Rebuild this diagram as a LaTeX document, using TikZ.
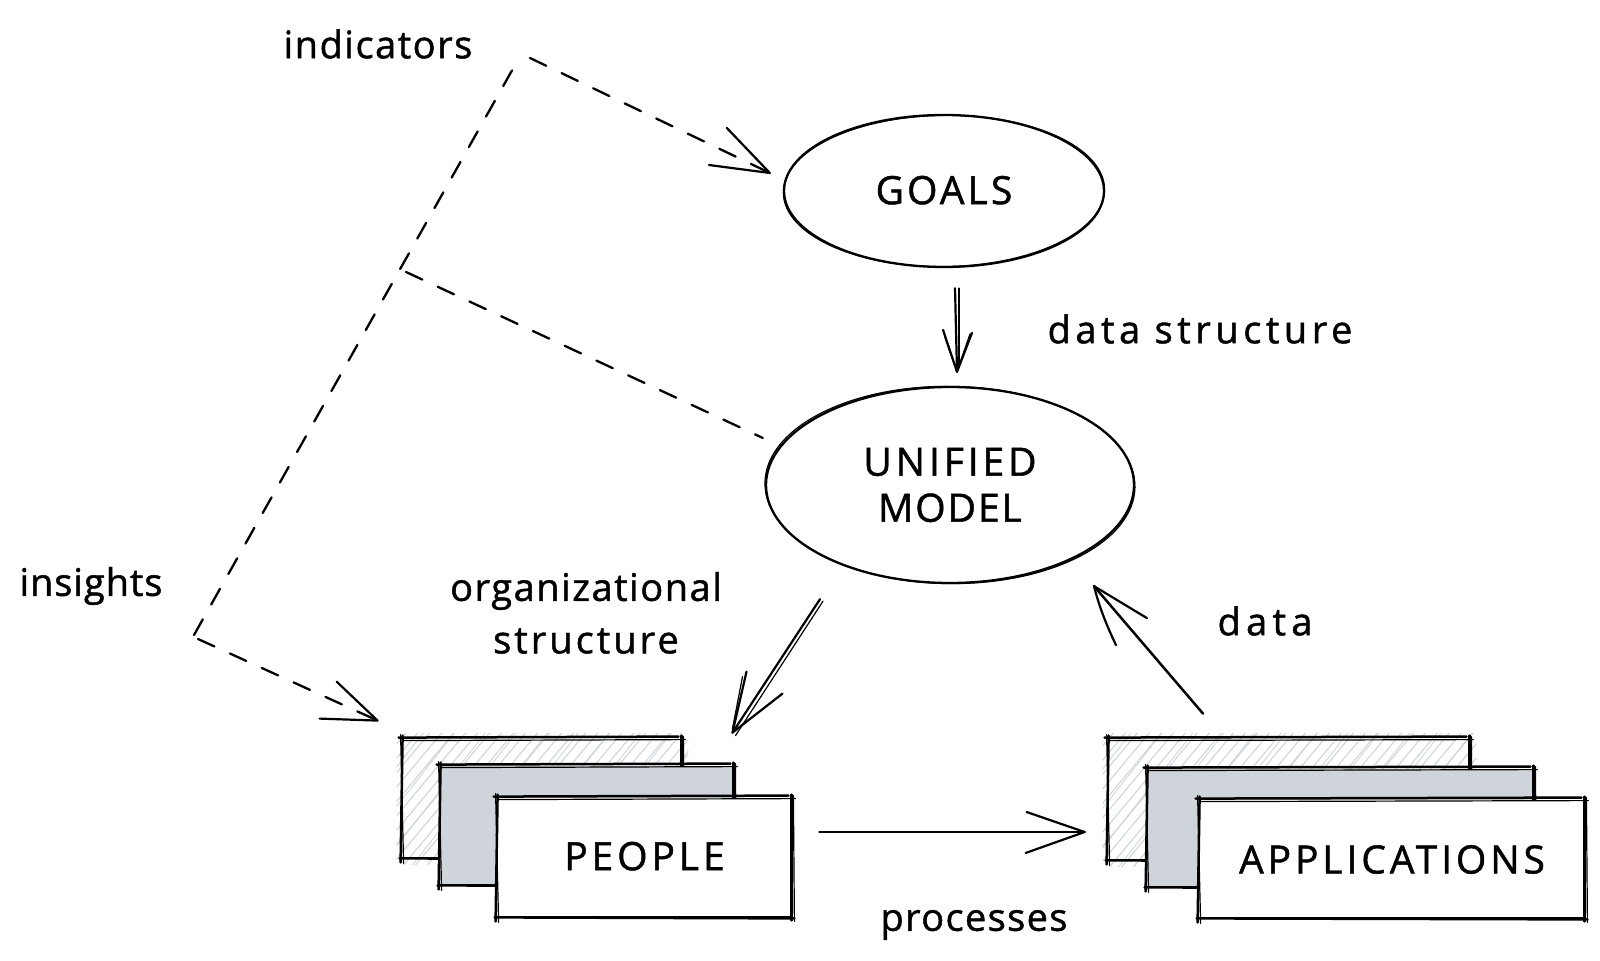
\documentclass[tikz,border=0pt]{standalone}
\usepackage{fontspec}
\usetikzlibrary{calc,shapes.geometric}
\newfontfamily\skfont[FakeBold=1.2]{Open Sans}
\newcommand{\sklabel}[1]{\addfontfeature{LetterSpace=#1}}
\definecolor{slate}{HTML}{CED4DA}
\definecolor{hatchc}{HTML}{CDD2D8}
\tikzset{
  skline/.style={line width=1.25pt,line cap=round,line join=round,black},
  skthin/.style={line width=0.6pt,line cap=round,line join=round,black},
  skarrow/.style={line width=1.1pt,line cap=round,line join=round,black},
  skdash/.style={line width=1.15pt,line cap=round,black,dash pattern=on 9pt off 8.5pt},
  sktext/.style={font=\skfont\fontsize{19}{23}\selectfont,inner sep=0pt,align=center},
  skcap/.style={font=\skfont\fontsize{19.5}{23}\selectfont\sklabel{10},align=center},
  skbox/.style={rectangle,inner sep=0pt,minimum width=#1},
  skblob/.style={ellipse,inner sep=0pt,draw=black,line width=1.15pt,fill=white},
}
% rough doubled outline of a node
\newcommand{\skoutline}[1]{%
  \draw[skline] ($(#1.north west)+(-3,-1)$) -- ($(#1.north east)+(-4,-2)$);
  \draw[skline] ($(#1.north east)+(-1,-3)$) -- ($(#1.south east)+(-1,2)$);
  \draw[skline] ($(#1.south east)+(2,0)$) -- ($(#1.south west)+(-2,-1)$);
  \draw[skline] ($(#1.south west)+(-1,3)$) -- ($(#1.north west)+(1,-3)$);
  \draw[skthin] ($(#1.north west)+(2,2)$) -- ($(#1.north east)+(3,1)$);
  \draw[skthin] ($(#1.north east)+(1,-2)$) -- ($(#1.south east)+(2,3)$);
  \draw[skthin] ($(#1.south east)+(-2,-2)$) -- ($(#1.south west)+(2,-2)$);
  \draw[skthin] ($(#1.south west)+(2,4)$) -- ($(#1.north west)+(-1,-4)$);
}
% hatch of a node
\newcommand{\skhatch}[1]{%
  \begin{scope}
    \path (#1.south west) ++(-5,5) coordinate (hsw);
    \path (#1.north east) ++(6,-5) coordinate (hne);
    \clip (hsw) rectangle (hne);
    \foreach \i in {-120,-108,...,420} {
      \draw[hatchc,line width=0.5pt] ($(#1.south west)+(\i,8)$) -- ++(125,-150);
    }
    \foreach \i in {-115,-84,...,420} {
      \draw[hatchc,line width=0.4pt] ($(#1.south west)+(\i,8)$) -- ++(118,-150);
    }
  \end{scope}
}
% open, two-stroke head
\newcommand{\skhead}[3]{%
  \draw[skarrow] ($(#1)+(#2)$) -- (#1) -- ($(#1)+(#3)$);
}
\begin{document}
\begin{tikzpicture}[x=0.5pt,y=-0.5pt]
\useasboundingbox (0,0) rectangle (1600,961);
\fill[white] (0,0) rectangle (1600,961);

% ellipses
\node[skblob,minimum width=160pt,minimum height=76pt,sktext,skcap] (goals) at (944,191) {\raisebox{1pt}{\sklabel{8}GOALS}};
\draw[skthin,rotate around={0.7:(goals.center)}] (goals.center) ellipse [x radius=80.3pt,y radius=37.8pt];
\node[skblob,minimum width=184pt,minimum height=98pt,sktext,skcap] (unified) at (950,485) {UNIFIED\\\sklabel{5}MODEL};
\draw[skthin,rotate around={-0.7:(unified.center)}] (unified.center) ellipse [x radius=92.5pt,y radius=49.3pt];

% people stack
\node[skbox=140pt,minimum height=60pt] (peopleback) at (542,799) {};
\skhatch{peopleback}
\skoutline{peopleback}
\node[skbox=147pt,minimum height=60pt,fill=slate] (peoplemid) at (587,826) {};
\skoutline{peoplemid}
\node[skbox=147.5pt,minimum height=60pt,fill=white,sktext,skcap] (people) at (644.5,858) {\raisebox{2pt}{\sklabel{10}PEOPLE}};
\skoutline{people}

% applications stack
\node[skbox=181pt,minimum height=61pt] (appback) at (1289,800) {};
\skhatch{appback}
\skoutline{appback}
\node[skbox=193.5pt,minimum height=59.5pt,fill=slate] (appmid) at (1340.5,828.5) {};
\skoutline{appmid}
\node[skbox=193pt,minimum height=59.5pt,fill=white,sktext,skcap] (applications) at (1392,859.5) {APPLICATIONS};
\skoutline{applications}

% connector ends
\coordinate (gmstart) at ($(goals.south)+(11,20)$);
\coordinate (gmtip)   at ($(unified.north)+(7,-14)$);
\coordinate (mpstart) at ($(unified.south)+(-130,15)$);
\coordinate (mptip)   at ($(people.north)+(88,-65)$);
\coordinate (admstart) at ($(applications.north)+(-189,-86)$);
\coordinate (adtip)   at ($(unified.south)+(144,2)$);
\coordinate (pastart) at ($(people.east)+(27,-26)$);
\coordinate (patip)   at ($(appback.west)+(-23,32)$);

\coordinate (topcorner) at (519,58);
\coordinate (leftcorner) at (194,635);
\coordinate (junction) at (406,272);
\coordinate (goalstip) at ($(goals.west)+(-13,-18)$);
\coordinate (mstop) at ($(unified.west)+(-2,-47)$);
\coordinate (peopletip) at ($(peopleback.north west)+(-24,-18)$);

% solid arrows
\draw[skarrow] (gmstart) -- (gmtip);
\draw[skthin] ($(gmstart)+(4,0)$) -- ($(gmtip)+(2,-4)$);
\skhead{gmtip}{-14,-42}{15,-39}
\draw[skthin] ($(gmtip)+(-2,-6)$) -- ++(-10,-28);
\draw[skthin] ($(gmtip)+(2,-6)$) -- ++(11,-32);

\draw[skarrow] (mpstart) -- (mptip);
\draw[skthin] ($(mpstart)+(3,2)$) -- ($(mptip)+(3,3)$);
\skhead{mptip}{14,-61}{50,-39}
\draw[skthin] ($(mptip)+(0,-4)$) -- ++(10,-52);

\draw[skarrow,line width=1.25pt] (admstart) -- (adtip);
\draw[skarrow] ($(adtip)+(22,59)$) .. controls ($(adtip)+(12,38)$) and ($(adtip)+(5,20)$) .. (adtip) -- ($(adtip)+(53,32)$);

\draw[skarrow,line width=1.3pt] (pastart) -- (patip);
\draw[skarrow] ($(patip)+(-58,-20)$) -- (patip) -- ($(patip)+(-59,21)$);

% dashed links
\draw[skdash] (leftcorner) -- (topcorner);
\draw[skdash] ($(topcorner)+(11,0)$) -- (goalstip);
\skhead{goalstip}{-43,-45}{-61,-8}
\draw[skdash] (junction) -- (mstop);
\draw[skdash] ($(leftcorner)+(4,4)$) -- (peopletip);
\skhead{peopletip}{-41,-39}{-58,-2}

% labels
\node[sktext] (indicators) at (378,44) {\sklabel{4}indicators};
\node[sktext] (datastructure) at (1200,329) {\sklabel{12}data structure};
\node[sktext] (orglabel) at (586,591) {\sklabel{4}organizational};
\node[sktext] (structlabel) at (586,641) {\sklabel{8}structure};
\node[sktext] (datalabel) at (1265,621) {\sklabel{14}data};
\node[sktext] (insights) at (91,586) {\sklabel{2.5}insights};
\node[sktext] (processes) at (974,925) {\sklabel{3.6}processes};
\end{tikzpicture}
\end{document}
